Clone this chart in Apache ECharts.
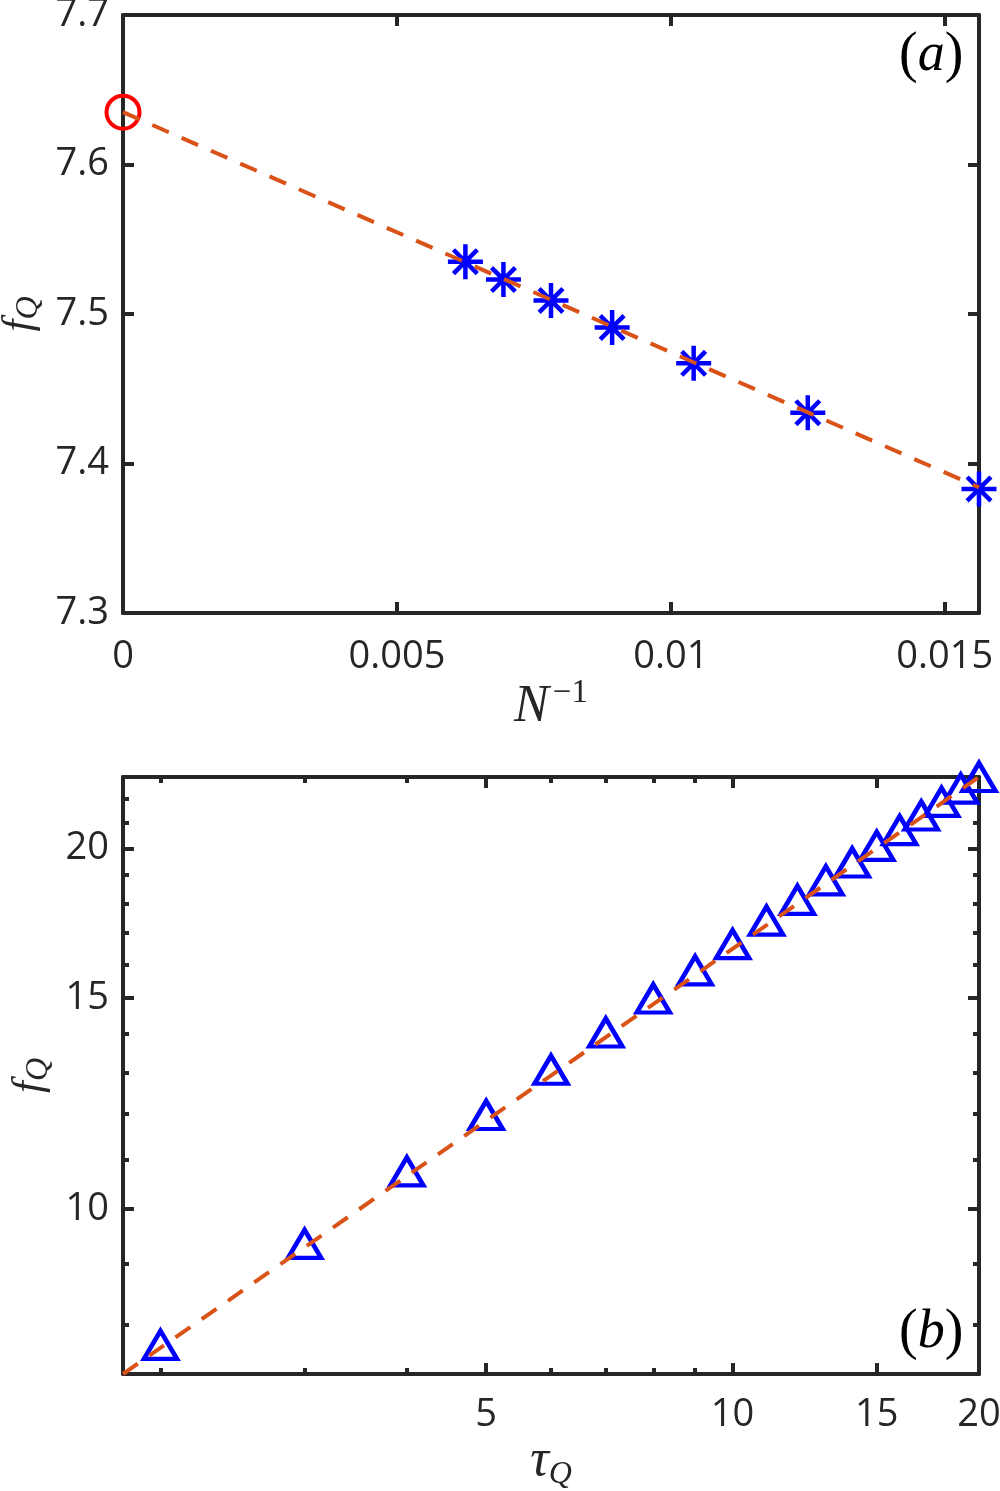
<!DOCTYPE html>
<html>
<head>
<meta charset="utf-8">
<script src="https://cdn.jsdelivr.net/npm/echarts@6/dist/echarts.min.js"></script>
<style>
html, body { margin: 0; padding: 0; background: #fff; }
#chart { width: 1000px; height: 1491px; }
</style>
</head>
<body>
<div id="chart"></div>
<script>
// (a) f_Q against 1/N
var invN = [1 / 160, 1 / 144, 1 / 128, 1 / 112, 1 / 96, 1 / 80, 1 / 64];
var fqN = [7.535, 7.523, 7.509, 7.491, 7.467, 7.434, 7.383];
var extrapX = [0];
var extrapY = [7.635];
var fitAX = [0, 1 / 64];
var fitAY = [7.635, 7.384];

// (b) f_Q against tau_Q (log-log)
var tau = [2, 3, 4, 5, 6, 7, 8, 9, 10, 11, 12, 13, 14, 15, 16, 17, 18, 19, 20];
var fqTau = [7.70, 9.35, 10.75, 11.98, 13.07, 14.04, 14.99, 15.82, 16.64, 17.41,
  18.12, 18.81, 19.47, 20.10, 20.72, 21.31, 21.88, 22.44, 22.95];
var fitBX = [1.8, 20];
var fitBY = [7.28, 22.95];

var tauMajor = [5, 10, 15, 20];
var tauMinor = [2, 3, 4, 6, 7, 8, 9];
var fMajor = [10, 15, 20];
var fMinor = [8, 9, 11, 12, 13, 14, 16, 17, 18, 19, 21, 22];

var INK = '#262626';
var NUM_FONT = '"Open Sans", sans-serif';
var MATH_FONT = '"Liberation Serif", serif';

function pairs(xs, ys) {
  return xs.map(function (x, i) { return [x, ys[i]]; });
}

// one side of the box; labels off unless given
function frame(gridIndex, position, extra) {
  return Object.assign({
    gridIndex: gridIndex,
    position: position,
    splitLine: { show: false },
    axisLine: { show: true, onZero: false, lineStyle: { color: INK, width: 4 } },
    axisTick: { show: true, inside: true, length: 11, lineStyle: { color: INK, width: 4 } },
    axisLabel: { show: false }
  }, extra);
}

function tickLabel(margin, extra) {
  return Object.assign({
    show: true, color: INK, fontFamily: NUM_FONT, fontSize: 38, margin: margin
  }, extra);
}

var mathRich = {
  big: { fontFamily: MATH_FONT, fontStyle: 'italic', fontWeight: 'normal', fontSize: 52, lineHeight: 60, color: INK },
  fy: { fontFamily: MATH_FONT, fontStyle: 'italic', fontWeight: 'normal', fontSize: 43, lineHeight: 50, color: INK },
  sub: { fontFamily: MATH_FONT, fontStyle: 'italic', fontWeight: 'normal', fontSize: 32, lineHeight: 32, color: INK, verticalAlign: 'bottom' },
  sup: { fontFamily: MATH_FONT, fontWeight: 'normal', fontSize: 33, lineHeight: 33, color: INK, verticalAlign: 'top', padding: [0, 0, 0, 4] }
};

var tagRich = {
  p: { fontFamily: MATH_FONT, fontWeight: 'normal', fontSize: 56, lineHeight: 60, color: '#000' },
  i: { fontFamily: MATH_FONT, fontStyle: 'italic', fontWeight: 'normal', fontSize: 54, lineHeight: 60, color: '#000' }
};

function logRange(min, max) { return { type: 'log', logBase: 10, min: min, max: max }; }
function majorTick(vals) {
  return { show: true, inside: true, length: 11, customValues: vals, lineStyle: { color: INK, width: 4 } };
}
function minorTick(vals) {
  return { show: true, inside: true, length: 6, customValues: vals, lineStyle: { color: INK, width: 4 } };
}

var chart = echarts.init(document.getElementById('chart'));

var option = {
  animation: false,
  backgroundColor: '#fff',
  title: [
    { text: '{p|(}{i|a}{p|)}', left: 899, top: 26, padding: 0, textStyle: { fontWeight: 'normal', rich: tagRich } },
    { text: '{p|(}{i|b}{p|)}', left: 899, top: 1303, padding: 0, textStyle: { fontWeight: 'normal', rich: tagRich } }
  ],
  grid: [
    { left: 123, right: 21, top: 15, height: 598, outerBoundsMode: 'none' },
    { left: 123, right: 21, top: 777, height: 597, outerBoundsMode: 'none' }
  ],
  xAxis: [
    frame(0, 'bottom', {
      type: 'value', min: 0, max: 1 / 64, interval: 0.005,
      axisLabel: tickLabel(25, {
        showMaxLabel: false,
        formatter: function (v) { return String(+v.toFixed(4)); }
      }),
      name: '{big|N}{sup|\u22121}', nameLocation: 'middle', nameGap: 58,
      nameTextStyle: { rich: mathRich }
    }),
    frame(0, 'top', { type: 'value', min: 0, max: 1 / 64, interval: 0.005 }),

    frame(1, 'bottom', Object.assign(logRange(1.8, 20), {
      axisTick: majorTick(tauMajor),
      axisLabel: tickLabel(22, { customValues: tauMajor }),
      name: '{big|\u03c4}{sub|Q}', nameLocation: 'middle', nameGap: 55,
      nameTextStyle: { rich: mathRich }
    })),
    frame(1, 'bottom', Object.assign(logRange(1.8, 20), {
      axisLine: { show: false }, axisTick: minorTick(tauMinor)
    })),
    frame(1, 'top', Object.assign(logRange(1.8, 20), { axisTick: majorTick(tauMajor) })),
    frame(1, 'top', Object.assign(logRange(1.8, 20), {
      axisLine: { show: false }, axisTick: minorTick(tauMinor)
    }))
  ],
  yAxis: [
    frame(0, 'left', {
      type: 'value', min: 7.3, max: 7.7, interval: 0.1,
      axisLabel: tickLabel(14, { formatter: function (v) { return v.toFixed(1); } }),
      name: '{fy|f}{sub|Q}', nameLocation: 'middle', nameGap: 76,
      nameTextStyle: { rich: mathRich }
    }),
    frame(0, 'right', { type: 'value', min: 7.3, max: 7.7, interval: 0.1 }),

    frame(1, 'left', Object.assign(logRange(7.28, 22.95), {
      axisTick: majorTick(fMajor),
      axisLabel: tickLabel(14, { customValues: fMajor }),
      name: '{fy|f}{sub|Q}', nameLocation: 'middle', nameGap: 66,
      nameTextStyle: { rich: mathRich }
    })),
    frame(1, 'left', Object.assign(logRange(7.28, 22.95), {
      axisLine: { show: false }, axisTick: minorTick(fMinor)
    })),
    frame(1, 'right', Object.assign(logRange(7.28, 22.95), { axisTick: majorTick(fMajor) })),
    frame(1, 'right', Object.assign(logRange(7.28, 22.95), {
      axisLine: { show: false }, axisTick: minorTick(fMinor)
    }))
  ],
  series: [
    {
      type: 'scatter', xAxisIndex: 0, yAxisIndex: 0, z: 2, clip: false,
      data: pairs(invN, fqN),
      symbol: 'path://M50 0L50 100M0 50L100 50M16 16L84 84M84 16L16 84',
      symbolSize: 35,
      itemStyle: { color: 'rgba(0,0,0,0)', borderColor: '#0000ff', borderWidth: 4.5, opacity: 1 }
    },
    {
      type: 'scatter', xAxisIndex: 0, yAxisIndex: 0, z: 2, clip: false,
      data: pairs(extrapX, extrapY),
      symbol: 'circle', symbolSize: 33,
      itemStyle: { color: 'rgba(0,0,0,0)', borderColor: '#ff0000', borderWidth: 4, opacity: 1 }
    },
    {
      type: 'line', xAxisIndex: 0, yAxisIndex: 0, z: 3, clip: false,
      data: pairs(fitAX, fitAY), symbol: 'none',
      lineStyle: { color: '#d95319', width: 4, type: [18, 14] }
    },
    {
      type: 'scatter', xAxisIndex: 2, yAxisIndex: 2, z: 2, clip: false,
      data: pairs(tau, fqTau),
      symbol: 'triangle', symbolSize: [33, 28],
      itemStyle: { color: 'rgba(0,0,0,0)', borderColor: '#0000ff', borderWidth: 4.5, opacity: 1 }
    },
    {
      type: 'line', xAxisIndex: 2, yAxisIndex: 2, z: 3, clip: false,
      data: pairs(fitBX, fitBY), symbol: 'none',
      lineStyle: { color: '#d95319', width: 4, type: [18, 14] }
    }
  ]
};

chart.setOption(option);
</script>
</body>
</html>
